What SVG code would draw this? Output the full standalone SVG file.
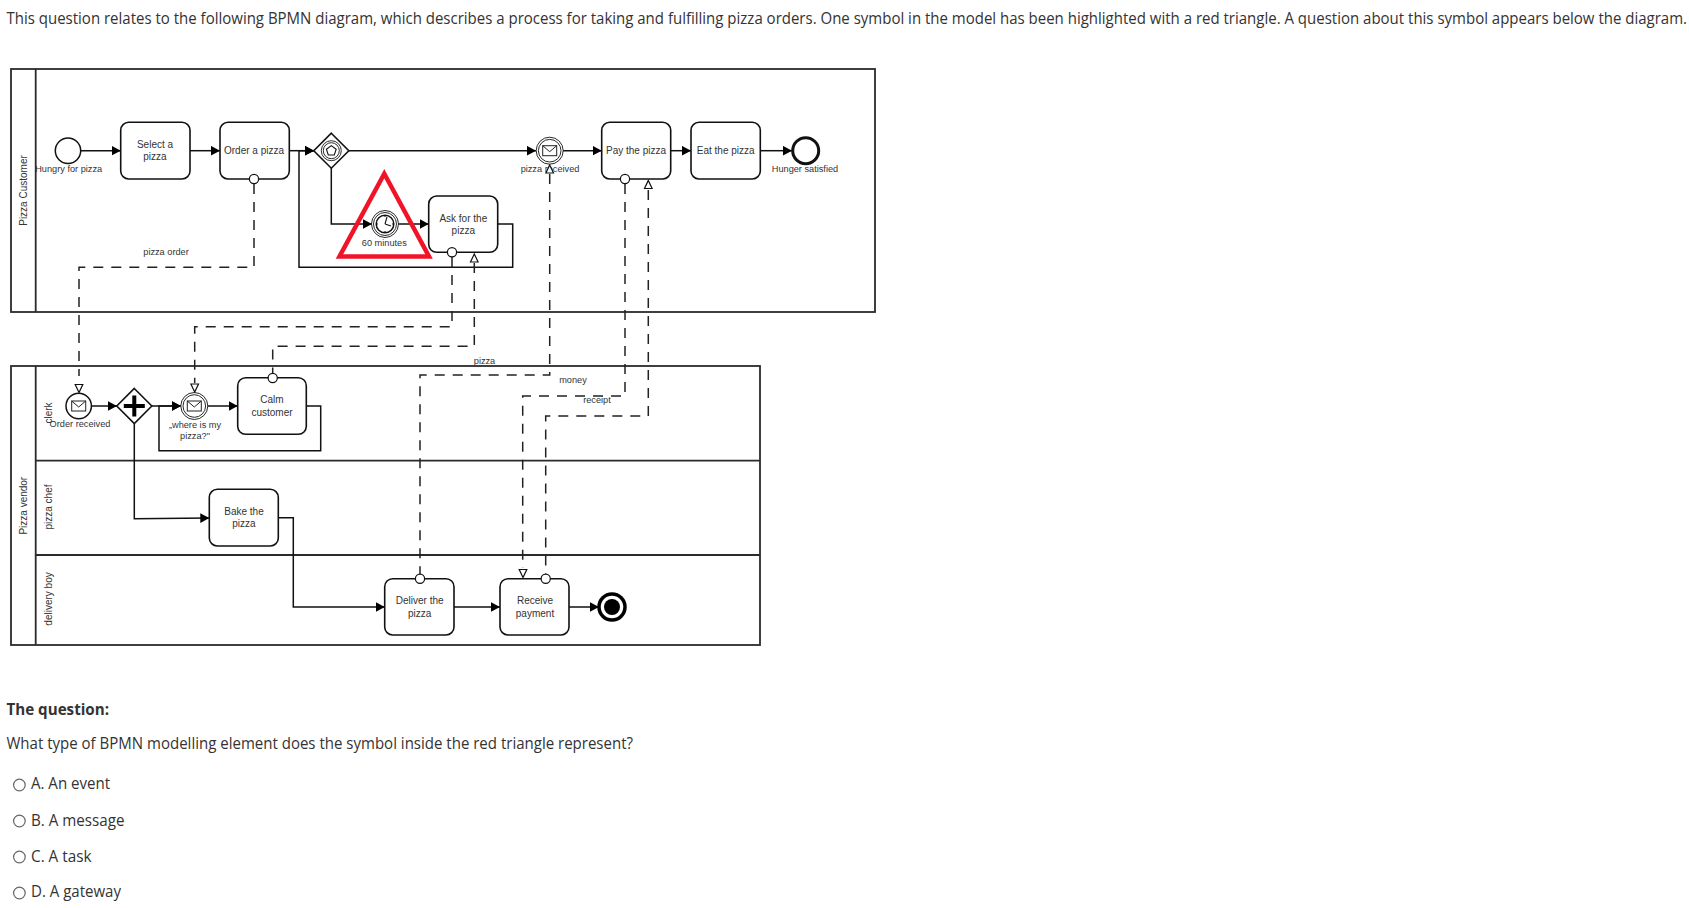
<svg xmlns="http://www.w3.org/2000/svg" width="1689" height="908" viewBox="0 0 1689 908">
<style>
.page{font-family:"Open Sans","Noto Sans",sans-serif;font-size:16px;fill:#333}
.intro{font-size:15.5px}
.b{font-weight:700}
.t{font-family:"Liberation Sans",Arial,sans-serif;font-size:10px;fill:#333;text-anchor:middle}
.l{font-family:"Liberation Sans",Arial,sans-serif;font-size:9.2px;fill:#333;text-anchor:middle}
.pool{fill:none;stroke:#2b2b2b;stroke-width:1.8}
.task{fill:#fff;stroke:#111;stroke-width:1.6}
.ev{fill:#fff;stroke:#111;stroke-width:1.5}
.thin{fill:#fff;stroke:#111;stroke-width:.9}
.seq{fill:none;stroke:#111;stroke-width:1.5;marker-end:url(#a)}
.msg{fill:none;stroke:#222;stroke-width:1.5;stroke-dasharray:10 8;}
.mh{fill:#fff;stroke:#111;stroke-width:1.2}
.radio{fill:#fff;stroke:#666;stroke-width:1.2}
</style>
<defs>
<marker id="a" markerUnits="userSpaceOnUse" markerWidth="11" markerHeight="11" refX="9" refY="5" orient="auto"><path d="M0 .2L9 5L0 9.800Z" fill="#000"/></marker>
<g id="env"><rect x="-7" y="-5" width="14" height="10" fill="#fff" stroke="#222" stroke-width="1"/><path d="M-7-5L0 1L7-5" fill="none" stroke="#222" stroke-width="1"/></g>
</defs>
<rect width="1689" height="908" fill="#fff"/>
<text id="intro" class="page intro" x="6.500" y="24" textLength="1680.500" lengthAdjust="spacingAndGlyphs">This question relates to the following BPMN diagram, which describes a process for taking and fulfilling pizza orders. One symbol in the model has been highlighted with a red triangle. A question about this symbol appears below the diagram.</text>

<g id="pool-customer">
<rect class="pool" x="11" y="69" width="864" height="243"/>
<path class="pool" d="M35.700 69V312"/>
<text class="t" transform="translate(26.500 190.500) rotate(-90)">Pizza Customer</text>
</g>
<g id="pool-vendor">
<rect class="pool" x="11" y="366" width="749" height="279"/>
<path class="pool" d="M35.700 366V645M35.700 460.700H760M35.700 555H760"/>
<text class="t" transform="translate(26.500 505.700) rotate(-90)">Pizza vendor</text>
<text class="t" transform="translate(52 413) rotate(-90)">clerk</text>
<text class="t" transform="translate(52 507) rotate(-90)">pizza chef</text>
<text class="t" transform="translate(52 599) rotate(-90)">delivery boy</text>
</g>

<g id="connectors">
<path class="seq" d="M81 150.700H120.700"/>
<path class="seq" d="M190 150.700H220"/>
<path class="seq" d="M289.300 150.700H314"/>
<path class="seq" d="M349 150.700H536"/>
<path class="seq" d="M563 150.700H601.700"/>
<path class="seq" d="M670.700 150.700H691"/>
<path class="seq" d="M760.300 150.700H792"/>
<path class="seq" d="M331.300 168V224H372"/>
<path class="seq" d="M398.500 224H428.700"/>
<path class="seq" d="M497.700 224H512.700V267.300H299V150.700H314"/>
<path class="seq" d="M91.500 406H117"/>
<path class="seq" d="M152 406H181"/>
<path class="seq" d="M208 406H237.700"/>
<path class="seq" d="M306.300 406H320.700V450.700H159V406H181"/>
<path class="seq" d="M134.300 423.500V518.700L209.300 518"/>
<path class="seq" d="M278.300 517.700H293.300V607H384.700"/>
<path class="seq" d="M454 607H500"/>
<path class="seq" d="M569 607H599"/>
<path class="msg" d="M254 184V267.300H79V376"/>
<path class="msg" d="M452 257V326.700H194.700V383"/>
<path class="msg" d="M474.300 263V346.300H272.700V373"/>
<path class="msg" d="M549.700 174V375H420V574"/>
<path class="msg" d="M625 184V396H522.700V568"/>
<path class="msg" d="M648.300 190V416H545.700V574"/>
</g>

<g id="start-hungry"><circle class="ev" cx="68" cy="150.700" r="12.700"/><text class="l" x="68.700" y="171.500">Hungry for pizza</text></g>
<g id="task-select"><rect class="task" x="120.700" y="122.300" width="69.300" height="56.700" rx="8"/><text class="t" x="155" y="148">Select a</text><text class="t" x="155" y="160.400">pizza</text></g>
<g id="task-order"><rect class="task" x="220" y="122.300" width="69.300" height="56.700" rx="8"/><text class="t" x="254" y="154.400">Order a pizza</text><circle class="mh" cx="254" cy="179" r="4.600"/></g>
<g id="gateway-event"><path class="task" d="M331.300 133.200L348.800 150.700L331.300 168.200L313.800 150.700Z"/><circle class="thin" cx="331.300" cy="150.700" r="10"/><circle class="thin" cx="331.300" cy="150.700" r="8"/><path fill="#fff" stroke="#111" stroke-width="1.100" d="M331.300 145.600L336.200 149.200L334.300 155H328.300L326.400 149.200Z"/></g>
<g id="event-pizza-received"><circle class="thin" cx="549.700" cy="150.700" r="13.500"/><circle class="thin" cx="549.700" cy="150.700" r="11.300"/><use href="#env" x="549.700" y="150.700"/><text class="l" x="550" y="172">pizza received</text><path class="mh" d="M549.700 165L553.500 173H545.900Z"/></g>
<g id="task-pay"><rect class="task" x="601.700" y="122.300" width="69" height="56.700" rx="8"/><text class="t" x="636" y="154.400">Pay the pizza</text><circle class="mh" cx="625" cy="179" r="4.600"/><path class="mh" d="M648.300 180.500L652.100 188.500H644.500Z"/></g>
<g id="task-eat"><rect class="task" x="691" y="122.300" width="69.300" height="56.700" rx="8"/><text class="t" x="725.700" y="154.400">Eat the pizza</text></g>
<g id="end-hunger"><circle cx="805.700" cy="150.700" r="13" fill="#fff" stroke="#111" stroke-width="3"/><text class="l" x="805" y="172">Hunger satisfied</text></g>
<g id="timer-60"><circle class="thin" cx="385" cy="224" r="13.500"/><circle class="thin" cx="385" cy="224" r="11.500"/><circle cx="385" cy="224" r="8.800" fill="#fff" stroke="#111" stroke-width="1.500"/><path fill="none" stroke="#111" stroke-width="1.100" d="M385 224L387 217M385 224L391 226M385 215.200V217M385 232.800V231M376.200 224H378M393.800 224H392"/><text class="l" x="384.300" y="246">60 minutes</text></g>
<g id="task-ask"><rect class="task" x="428.700" y="196" width="69" height="56.300" rx="8"/><text class="t" x="463.300" y="221.500">Ask for the</text><text class="t" x="463.300" y="234">pizza</text><circle class="mh" cx="452" cy="252.300" r="4.600"/><path class="mh" d="M474.300 254L478.100 262H470.500Z"/></g>
<g id="red-triangle"><path d="M384.300 173.800L429 256.400H339.500Z" fill="none" stroke="#f01428" stroke-width="4.500"/></g>
<g id="event-order-received"><circle class="ev" cx="78.700" cy="406" r="12.700"/><use href="#env" x="78.700" y="406"/><text class="l" x="80" y="427.300">Order received</text><path class="mh" d="M79 392.500L75.200 384.500H82.800Z"/></g>
<g id="gateway-parallel"><path class="task" d="M134.300 388.500L151.800 406L134.300 423.500L116.800 406Z"/><path fill="none" stroke="#000" stroke-width="4" d="M134.300 395.500V416.500M123.800 406H144.800"/></g>
<g id="event-where"><circle class="thin" cx="194.300" cy="406" r="13.500"/><circle class="thin" cx="194.300" cy="406" r="11.300"/><use href="#env" x="194.300" y="406"/><text class="l" x="195" y="428">„where is my</text><text class="l" x="195" y="438.500">pizza?"</text><path class="mh" d="M194.700 392L190.900 384H198.500Z"/></g>
<g id="task-calm"><rect class="task" x="237.700" y="377.700" width="68.600" height="56.600" rx="8"/><text class="t" x="272" y="403.200">Calm</text><text class="t" x="272" y="415.500">customer</text><circle class="mh" cx="272.700" cy="378" r="4.600"/></g>
<g id="task-bake"><rect class="task" x="209.300" y="489.300" width="69" height="56.700" rx="8"/><text class="t" x="244" y="514.500">Bake the</text><text class="t" x="244" y="527.200">pizza</text></g>
<g id="task-deliver"><rect class="task" x="384.700" y="578.700" width="69.300" height="56.300" rx="8"/><text class="t" x="419.700" y="603.800">Deliver the</text><text class="t" x="419.700" y="616.500">pizza</text><circle class="mh" cx="420" cy="578.700" r="4.600"/></g>
<g id="task-receive"><rect class="task" x="500" y="578.700" width="69" height="56.300" rx="8"/><text class="t" x="535" y="603.800">Receive</text><text class="t" x="535" y="616.500">payment</text><path class="mh" d="M523 577.500L519.200 569.500H526.800Z"/><circle class="mh" cx="545.700" cy="578.700" r="4.600"/></g>
<g id="end-vendor"><circle cx="612" cy="607" r="13" fill="#fff" stroke="#000" stroke-width="3.500"/><circle cx="612" cy="607" r="8" fill="#000"/></g>

<g id="flow-labels">
<text class="l" x="166" y="255">pizza order</text>
<text class="l" x="484.500" y="363.500">pizza</text>
<text class="l" x="573" y="383">money</text>
<text class="l" x="597" y="403">receipt</text>
</g>

<g id="question">
<text class="page b" x="6.500" y="715" textLength="102.500" lengthAdjust="spacingAndGlyphs">The question:</text>
<text class="page" x="6.500" y="749" textLength="626.500" lengthAdjust="spacingAndGlyphs">What type of BPMN modelling element does the symbol inside the red triangle represent?</text>
<circle class="radio" cx="19.400" cy="785" r="5.800"/><text class="page" x="31" y="789" textLength="79" lengthAdjust="spacingAndGlyphs">A. An event</text>
<circle class="radio" cx="19.400" cy="821" r="5.800"/><text class="page" x="31" y="825.500" textLength="93.500" lengthAdjust="spacingAndGlyphs">B. A message</text>
<circle class="radio" cx="19.400" cy="857" r="5.800"/><text class="page" x="31" y="861.500" textLength="60.500" lengthAdjust="spacingAndGlyphs">C. A task</text>
<circle class="radio" cx="19.400" cy="893" r="5.800"/><text class="page" x="31" y="897" textLength="90" lengthAdjust="spacingAndGlyphs">D. A gateway</text>
</g>
</svg>
